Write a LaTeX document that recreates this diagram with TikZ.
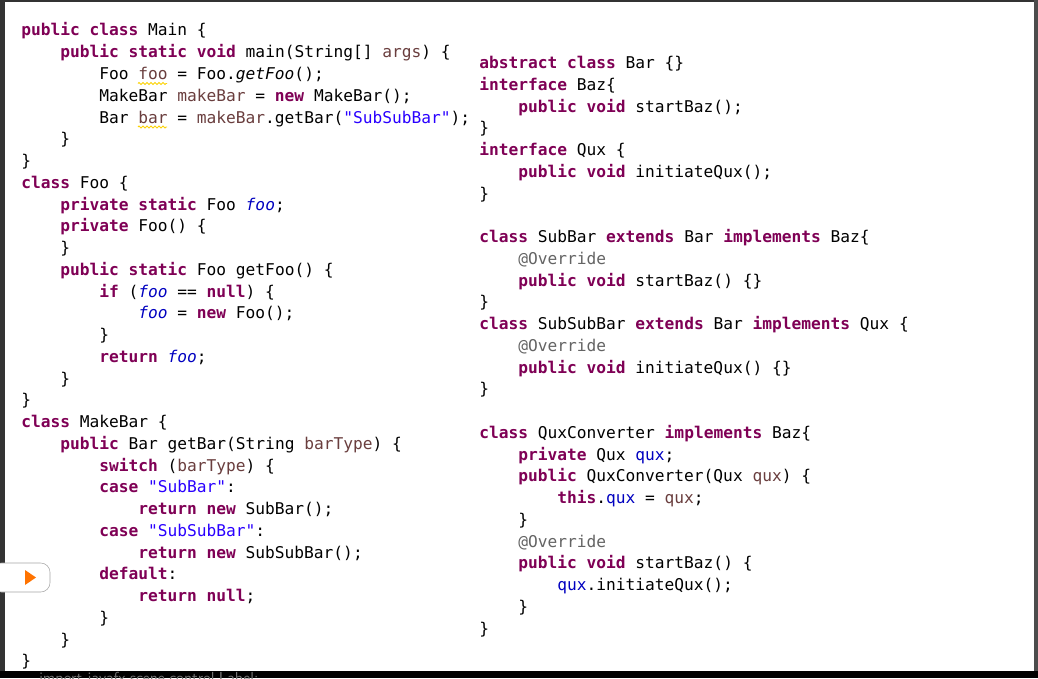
\documentclass[tikz,border=0pt]{standalone}
\usepackage{fontspec}
\setmainfont{DejaVu Sans Mono}
\setmonofont{DejaVu Sans Mono}
\usetikzlibrary{decorations.pathmorphing}
\definecolor{kwc}{HTML}{7F0055}
\definecolor{stc}{HTML}{2A00FF}
\definecolor{fdc}{HTML}{0000C0}
\definecolor{lvc}{HTML}{6A3E3E}
\definecolor{anc}{HTML}{646464}
\newcommand{\kw}[1]{\textcolor{kwc}{\textbf{#1}}}
\newcommand{\strg}[1]{\textcolor{stc}{"#1"}}
\newcommand{\fd}[1]{\textcolor{fdc}{#1}}
\newcommand{\fdi}[1]{\textcolor{fdc}{\textit{#1}}}
\newcommand{\lv}[1]{\textcolor{lvc}{#1}}
\newcommand{\an}[1]{\textcolor{anc}{#1}}
\tikzset{codeline/.style={anchor=base west,inner sep=0pt,font=\ttfamily\fontsize{12.16}{14}\selectfont,text=black}}
\newcommand{\lcol}[4]{\node[codeline] (#1) at ({21+39*#2},{36+21.75*(#3)}) {#4};}
\newcommand{\rcol}[4]{\node[codeline] (#1) at ({479+39*#2},{36+21.75*(#3)}) {#4};}
\begin{document}
\begin{tikzpicture}[x=0.75pt,y=-0.75pt]
\useasboundingbox (0,0) rectangle (1038,678);
\fill[white] (0,0) rectangle (1038,678);
% frame
\fill[black!80] (0,0) rectangle (1038,2);
\fill[black!80] (0,0) rectangle (5,678);
\fill[black!70] (1034,0) rectangle (1038,678);
\fill[black] (0,671) rectangle (1038,678);
\begin{scope}
\clip (0,671) rectangle (1038,678);
\node[anchor=base west,inner sep=0pt,text=black!55,font=\fontsize{12}{14}\selectfont\sffamily] (imp) at (39,683) {import javafx.scene.control.Label;};
\end{scope}
% left column
\lcol{a1}{0}{0}{\kw{public class} Main \{}
\lcol{a2}{1}{1}{\kw{public static void} main(String[] \lv{args}) \{}
\lcol{a3}{2}{2}{Foo \lv{foo} = Foo.\textit{getFoo}();}
\lcol{a4}{2}{3}{MakeBar \lv{makeBar} = \kw{new} MakeBar();}
\lcol{a5}{2}{4}{Bar \lv{bar} = \lv{makeBar}.getBar(\strg{SubSubBar});}
\lcol{a6}{1}{5}{\}}
\lcol{a7}{0}{6}{\}}
\lcol{a8}{0}{7}{\kw{class} Foo \{}
\lcol{a9}{1}{8}{\kw{private static} Foo \fdi{foo};}
\lcol{a10}{1}{9}{\kw{private} Foo() \{}
\lcol{a11}{1}{10}{\}}
\lcol{a12}{1}{11}{\kw{public static} Foo getFoo() \{}
\lcol{a13}{2}{12}{\kw{if} (\fdi{foo} == \kw{null}) \{}
\lcol{a14}{3}{13}{\fdi{foo} = \kw{new} Foo();}
\lcol{a15}{2}{14}{\}}
\lcol{a16}{2}{15}{\kw{return} \fdi{foo};}
\lcol{a17}{1}{16}{\}}
\lcol{a18}{0}{17}{\}}
\lcol{a19}{0}{18}{\kw{class} MakeBar \{}
\lcol{a20}{1}{19}{\kw{public} Bar getBar(String \lv{barType}) \{}
\lcol{a21}{2}{20}{\kw{switch} (\lv{barType}) \{}
\lcol{a22}{2}{21}{\kw{case} \strg{SubBar}:}
\lcol{a23}{3}{22}{\kw{return new} SubBar();}
\lcol{a24}{2}{23}{\kw{case} \strg{SubSubBar}:}
\lcol{a25}{3}{24}{\kw{return new} SubSubBar();}
\lcol{a26}{2}{25}{\kw{default}:}
\lcol{a27}{3}{26}{\kw{return null};}
\lcol{a28}{2}{27}{\}}
\lcol{a29}{1}{28}{\}}
\lcol{a30}{0}{29}{\}}
% right column
\rcol{b1}{0}{1.5}{\kw{abstract class} Bar \{\}}
\rcol{b2}{0}{2.5}{\kw{interface} Baz\{}
\rcol{b3}{1}{3.5}{\kw{public void} startBaz();}
\rcol{b4}{0}{4.5}{\}}
\rcol{b5}{0}{5.5}{\kw{interface} Qux \{}
\rcol{b6}{1}{6.5}{\kw{public void} initiateQux();}
\rcol{b7}{0}{7.5}{\}}
\rcol{b8}{0}{9.5}{\kw{class} SubBar \kw{extends} Bar \kw{implements} Baz\{}
\rcol{b9}{1}{10.5}{\an{@Override}}
\rcol{b10}{1}{11.5}{\kw{public void} startBaz() \{\}}
\rcol{b11}{0}{12.5}{\}}
\rcol{b12}{0}{13.5}{\kw{class} SubSubBar \kw{extends} Bar \kw{implements} Qux \{}
\rcol{b13}{1}{14.5}{\an{@Override}}
\rcol{b14}{1}{15.5}{\kw{public void} initiateQux() \{\}}
\rcol{b15}{0}{16.5}{\}}
\rcol{b16}{0}{18.5}{\kw{class} QuxConverter \kw{implements} Baz\{}
\rcol{b17}{1}{19.5}{\kw{private} Qux \fd{qux};}
\rcol{b18}{1}{20.5}{\kw{public} QuxConverter(Qux \lv{qux}) \{}
\rcol{b19}{2}{21.5}{\kw{this}.\fd{qux} = \lv{qux};}
\rcol{b20}{1}{22.5}{\}}
\rcol{b21}{1}{23.5}{\an{@Override}}
\rcol{b22}{1}{24.5}{\kw{public void} startBaz() \{}
\rcol{b23}{2}{25.5}{\fd{qux}.initiateQux();}
\rcol{b24}{1}{26.5}{\}}
\rcol{b25}{0}{27.5}{\}}
% warning squiggles
\draw[yellow!70!orange,line width=0.6pt,decorate,decoration={zigzag,segment length=3,amplitude=0.8}] (138,{36+21.75*2+4}) -- (167,{36+21.75*2+4});
\draw[yellow!70!orange,line width=0.6pt,decorate,decoration={zigzag,segment length=3,amplitude=0.8}] (138,{36+21.75*4+4}) -- (167,{36+21.75*4+4});
% run button
\draw[black!35,fill=white,rounded corners=7pt] (-8,563) rectangle (50,592);
\fill[orange!90!red] (25,570) -- (36,577.5) -- (25,585) -- cycle;
\end{tikzpicture}
\end{document}
